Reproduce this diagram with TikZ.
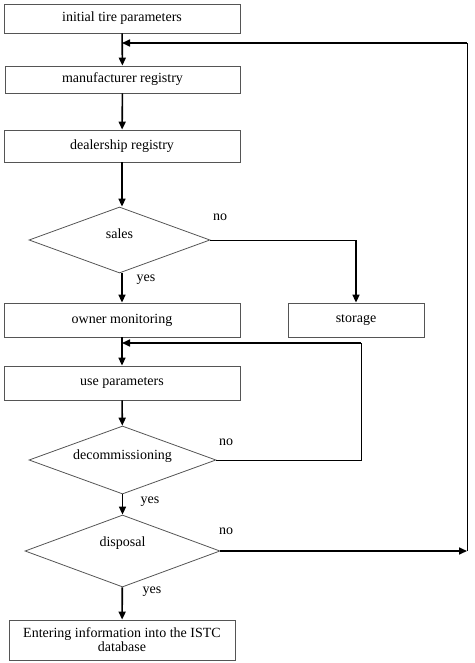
\documentclass[tikz,border=0pt]{standalone}
\usepackage{fontspec}
\setmainfont{Liberation Serif}
\usetikzlibrary{arrows.meta,shapes.geometric,positioning}
\definecolor{boxgray}{HTML}{555555}
% text in a diamond that does not widen the diamond
\newcommand{\choicetext}[2]{\makebox[0pt]{\raisebox{#1}[0pt][0pt]{#2}}}

\begin{document}
\begin{tikzpicture}[
  x=1pt,y=-1pt,
  >={Triangle[length=8pt,width=7pt]},
  every node/.style={font=\fontsize{14}{16}\selectfont},
  stepbox/.style={draw=boxgray,line width=.8pt,inner sep=0pt},
  choice/.style={diamond,draw=boxgray,line width=.8pt,inner sep=0pt},
  flow/.style={line width=1.6pt,->},
  thinline/.style={line width=.8pt}
]
  \useasboundingbox (0,0) rectangle (474,663);
  % boxes
  \node[stepbox,minimum width=236pt,minimum height=29pt] (init) at (122,18.5) {initial tire parameters};
  \node[stepbox,minimum width=235pt,minimum height=27pt] (manu) at (122.5,79.5) {manufacturer registry};
  \node[stepbox,minimum width=236pt,minimum height=32pt] (deal) at (122,146) {dealership registry};
  \node[choice,minimum width=181pt,minimum height=66pt] (sales) at (119.5,240) {\choicetext{2pt}{sales}};
  \node[stepbox,minimum width=236pt,minimum height=34pt] (owner) at (122,320) {owner monitoring};
  \node[stepbox,minimum width=136pt,minimum height=34pt] (store) at (356,320) {storage};
  \node[stepbox,minimum width=236pt,minimum height=34pt] (use) at (122,383) {use parameters};
  \node[choice,minimum width=187pt,minimum height=68pt] (decom) at (122.5,460) {\choicetext{1pt}{decommissioning}};
  \node[choice,minimum width=195pt,minimum height=72pt] (disp) at (122.5,551) {\choicetext{5pt}{disposal}};
  \node[stepbox,minimum width=226pt,minimum height=40pt,align=center] (istc) at (122,640)
    {Entering information into the ISTC\\[-2pt]database};
  % joins and corners
  \coordinate (join1) at (122,43);
  \coordinate (join2) at (122,343);
  \coordinate (back1) at (467,43);
  \coordinate (back2) at (361,343);
  % main flow
  \draw[flow] (init) -- (manu);
  \draw[flow] (manu) -- (deal);
  \draw[flow] (deal.south) -- (deal.south |- sales.north);
  \draw[flow] (sales.south -| owner.north) -- (owner);
  \draw[flow] (owner) -- (use);
  \draw[flow] (use) -- (decom);
  \draw[flow] (decom) -- (disp);
  \draw[flow] (disp) -- (istc);
  % branches
  \draw[thinline] (sales.east) -- (sales.east -| store.north);
  \draw[flow] (sales.east -| store.north) -- (store.north);
  \draw[thinline] (decom.east) -- (decom.east -| back2) -- (back2);
  \draw[flow] (back2) -- (join2);
  \draw[flow] (disp.east) -- (disp.east -| back1);
  \draw[thinline] (disp.east -| back1) -- (back1);
  \draw[flow] (back1) -- (join1);
  % labels
  \node (no1) at (220,217) {no};
  \node (yes1) at (146,280) {yes};
  \node (no2) at (226,442) {no};
  \node (yes2) at (150,502) {yes};
  \node (no3) at (226,531) {no};
  \node (yes3) at (152,592) {yes};
\end{tikzpicture}
\end{document}
